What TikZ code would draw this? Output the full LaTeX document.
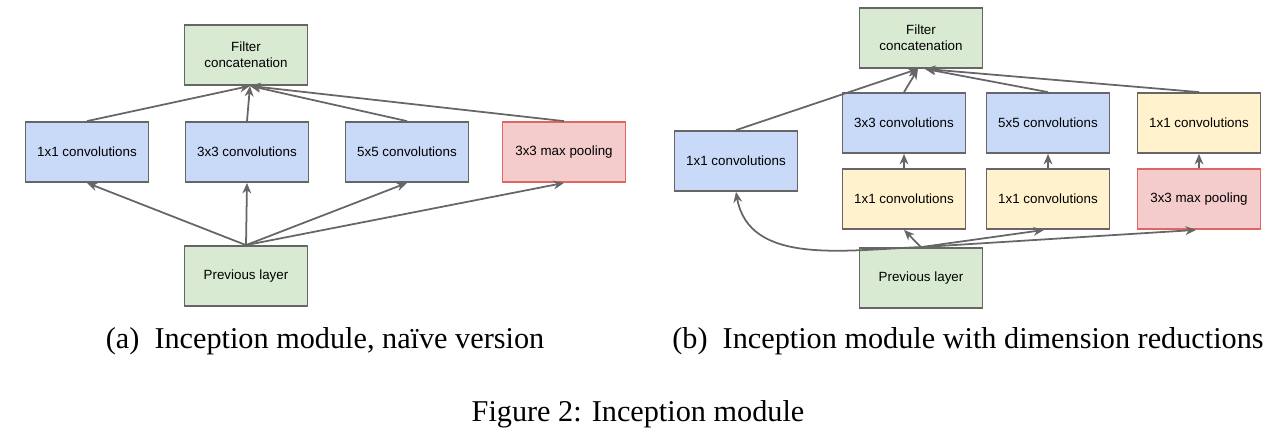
\documentclass[tikz,border=0pt]{standalone}
\usepackage{fontspec}
\setmainfont{Liberation Serif}
\newfontfamily\boxfont{Liberation Sans}
\usetikzlibrary{arrows.meta, positioning, calc}
\definecolor{colGreen}{HTML}{D9EAD3}
\definecolor{colBlue}{HTML}{C9DAF8}
\definecolor{colYellow}{HTML}{FFF2CC}
\definecolor{colRed}{HTML}{F4CCCC}
\definecolor{colRedEdge}{HTML}{E06666}
\definecolor{colEdge}{HTML}{666666}
\tikzset{
    blk/.style={draw=colEdge, line width=0.5pt, minimum width=1.23cm, minimum height=0.6cm,
        inner sep=0pt, align=center, font=\boxfont\fontsize{3.8}{4.6}\selectfont},
    grn/.style={blk, fill=colGreen},
    blu/.style={blk, fill=colBlue},
    ylw/.style={blk, fill=colYellow},
    pool/.style={blk, fill=colRed, draw=colRedEdge},
    conn/.style={draw=colEdge, line width=0.5pt, -{Stealth[length=3pt,width=2.5pt]}},
    capt/.style={font=\fontsize{8.6}{10}\selectfont}
}
\begin{document}
\begin{tikzpicture}[x=0.01cm, y=-0.01cm]
    \useasboundingbox (0,0) rectangle (1276,438);
    % --- (a) naive version ---
    \node[grn] (aCat) at (246,55) {Filter\\concatenation};
    \node[blu] (aOne) at (87,152) {1x1 convolutions};
    \node[blu] (aThree) at (247,152) {3x3 convolutions};
    \node[blu] (aFive) at (407,152) {5x5 convolutions};
    \node[pool] (aPool) at (564,152) {3x3 max pooling};
    \node[grn] (aPrev) at (246,276) {Previous layer};
    \coordinate (aIn) at ($(aCat.south)+(4,0)$);
    \foreach \b in {aOne,aThree,aFive,aPool} {
        \draw[conn] (aPrev.north) -- (\b.south);
        \draw[conn] (\b.north) -- (aIn);
    }
    \node[capt] (capA) at (325,341) {(a)\ \ Inception module, na\"{\i}ve version};

    % --- (b) with dimension reductions ---
    \node[grn] (bCat) at (921,38) {Filter\\concatenation};
    \node[blu] (bOne) at (736,161) {1x1 convolutions};
    \node[blu] (bThree) at (904,123) {3x3 convolutions};
    \node[blu] (bFive) at (1048,123) {5x5 convolutions};
    \node[ylw] (bProj) at (1199,123) {1x1 convolutions};
    \node[ylw] (bRedA) at (904,199) {1x1 convolutions};
    \node[ylw] (bRedB) at (1048,199) {1x1 convolutions};
    \node[pool] (bPool) at (1199,199) {3x3 max pooling};
    \node[grn] (bPrev) at (921,278) {Previous layer};
    \coordinate (bInL) at ($(bCat.south)+(-3,0)$);
    \coordinate (bInR) at ($(bCat.south)+(4,0)$);
    \draw[conn] (bOne.north) -- (bInL);
    \draw[conn] (bThree.north) -- (bInL);
    \draw[conn] (bFive.north) -- (bInR);
    \draw[conn] (bProj.north) -- (bInR);
    \draw[conn] (bRedA.north) -- (bThree.south);
    \draw[conn] (bRedB.north) -- (bFive.south);
    \draw[conn] (bPool.north) -- (bProj.south);
    \draw[conn] (bPrev.north) to[out=182, in=-80] (bOne.south);
    \draw[conn] (bPrev.north) -- (bRedA.south);
    \draw[conn] (bPrev.north) -- ($(bRedB.south)+(-4,0)$);
    \draw[conn] (bPrev.north) -- ($(bPool.south)+(-3,0)$);
    \node[capt] (capB) at (968,341) {(b)\ \ Inception module with dimension reductions};

    \node[capt] (fig) at (638,414) {Figure 2: Inception module};
\end{tikzpicture}
\end{document}
